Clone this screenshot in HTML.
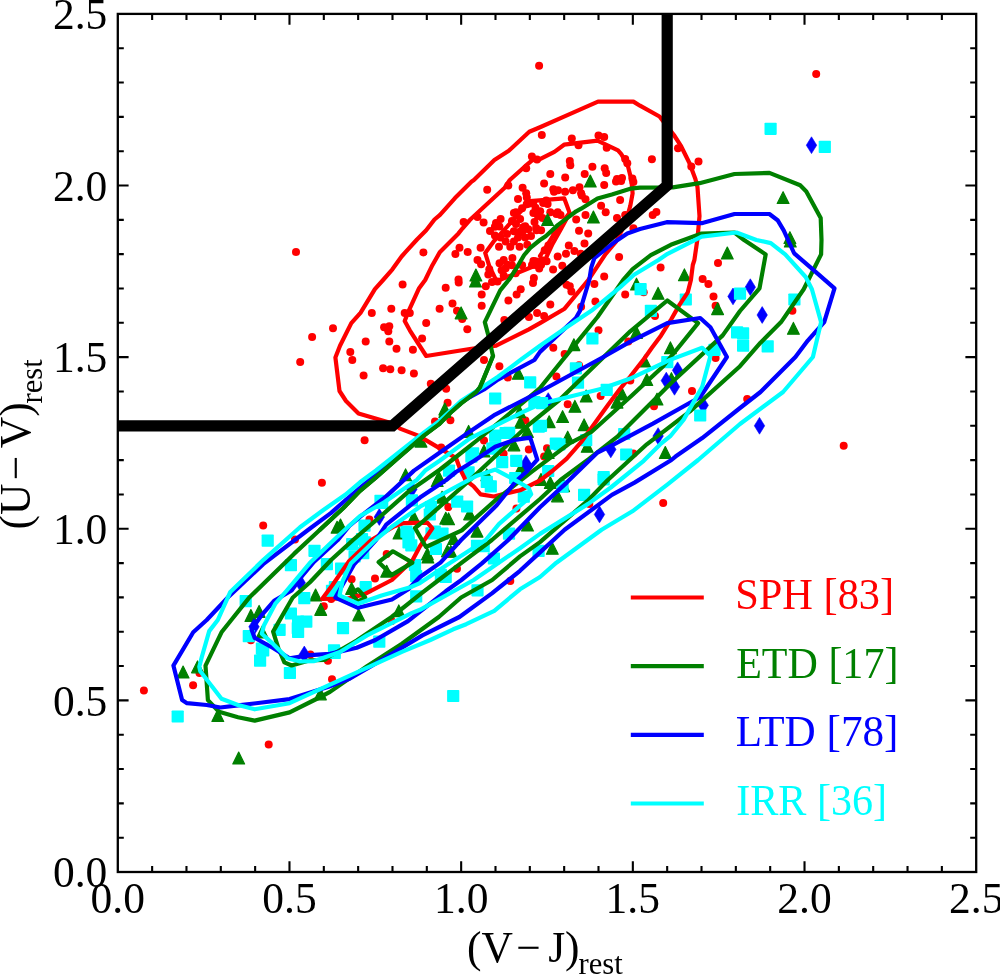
<!DOCTYPE html><html><head><meta charset="utf-8"><title>UVJ diagram</title><style>html,body{margin:0;padding:0;background:#fff;}svg{display:block;}text{font-family:"Liberation Serif","Times New Roman",serif;}</style></head><body>
<svg width="1000" height="974" viewBox="0 0 1000 974">
<rect x="0" y="0" width="1000" height="974" fill="#fff"/>
<defs><clipPath id="ax"><rect x="117.8" y="13.9" width="858.4" height="858.1"/></clipPath></defs>
<g clip-path="url(#ax)">
<circle cx="594.4" cy="284.1" r="4" fill="#ff0000"/>
<circle cx="569.8" cy="286.2" r="4" fill="#ff0000"/>
<circle cx="550.3" cy="304.6" r="4" fill="#ff0000"/>
<circle cx="544.1" cy="315.9" r="4" fill="#ff0000"/>
<circle cx="625.2" cy="294.4" r="4" fill="#ff0000"/>
<circle cx="643.7" cy="292.3" r="4" fill="#ff0000"/>
<circle cx="581.1" cy="306.7" r="4" fill="#ff0000"/>
<circle cx="595.4" cy="301.6" r="4" fill="#ff0000"/>
<circle cx="708.4" cy="284.1" r="4" fill="#ff0000"/>
<circle cx="713.5" cy="296.4" r="4" fill="#ff0000"/>
<circle cx="715.6" cy="305.7" r="4" fill="#ff0000"/>
<circle cx="598.5" cy="330.3" r="4" fill="#ff0000"/>
<circle cx="553.3" cy="347.8" r="4" fill="#ff0000"/>
<circle cx="564.6" cy="353.9" r="4" fill="#ff0000"/>
<circle cx="556.4" cy="376.5" r="4" fill="#ff0000"/>
<circle cx="579.0" cy="365.2" r="4" fill="#ff0000"/>
<circle cx="655.0" cy="315.9" r="4" fill="#ff0000"/>
<circle cx="628.3" cy="341.6" r="4" fill="#ff0000"/>
<circle cx="715.6" cy="358.0" r="4" fill="#ff0000"/>
<circle cx="692.0" cy="390.9" r="4" fill="#ff0000"/>
<circle cx="600.6" cy="396.0" r="4" fill="#ff0000"/>
<circle cx="567.7" cy="404.2" r="4" fill="#ff0000"/>
<circle cx="654.0" cy="406.3" r="4" fill="#ff0000"/>
<circle cx="630.3" cy="380.6" r="4" fill="#ff0000"/>
<circle cx="544.1" cy="456.6" r="4" fill="#ff0000"/>
<circle cx="633.4" cy="453.5" r="4" fill="#ff0000"/>
<circle cx="402.6" cy="284.5" r="4" fill="#ff0000"/>
<circle cx="445.7" cy="287.8" r="4" fill="#ff0000"/>
<circle cx="458.7" cy="282.5" r="4" fill="#ff0000"/>
<circle cx="481.7" cy="294.4" r="4" fill="#ff0000"/>
<circle cx="481.7" cy="305.7" r="4" fill="#ff0000"/>
<circle cx="452.5" cy="303.6" r="4" fill="#ff0000"/>
<circle cx="439.6" cy="308.7" r="4" fill="#ff0000"/>
<circle cx="391.3" cy="308.7" r="4" fill="#ff0000"/>
<circle cx="371.8" cy="312.9" r="4" fill="#ff0000"/>
<circle cx="404.7" cy="312.9" r="4" fill="#ff0000"/>
<circle cx="409.8" cy="312.9" r="4" fill="#ff0000"/>
<circle cx="426.2" cy="323.1" r="4" fill="#ff0000"/>
<circle cx="457.0" cy="310.8" r="4" fill="#ff0000"/>
<circle cx="462.2" cy="319.0" r="4" fill="#ff0000"/>
<circle cx="467.3" cy="329.3" r="4" fill="#ff0000"/>
<circle cx="384.1" cy="327.2" r="4" fill="#ff0000"/>
<circle cx="389.3" cy="326.2" r="4" fill="#ff0000"/>
<circle cx="388.3" cy="331.3" r="4" fill="#ff0000"/>
<circle cx="365.7" cy="341.6" r="4" fill="#ff0000"/>
<circle cx="389.3" cy="341.6" r="4" fill="#ff0000"/>
<circle cx="396.5" cy="348.8" r="4" fill="#ff0000"/>
<circle cx="422.1" cy="338.5" r="4" fill="#ff0000"/>
<circle cx="412.9" cy="349.8" r="4" fill="#ff0000"/>
<circle cx="350.3" cy="351.9" r="4" fill="#ff0000"/>
<circle cx="352.3" cy="360.1" r="4" fill="#ff0000"/>
<circle cx="383.1" cy="368.3" r="4" fill="#ff0000"/>
<circle cx="390.3" cy="369.3" r="4" fill="#ff0000"/>
<circle cx="401.6" cy="370.3" r="4" fill="#ff0000"/>
<circle cx="413.9" cy="373.4" r="4" fill="#ff0000"/>
<circle cx="363.6" cy="375.5" r="4" fill="#ff0000"/>
<circle cx="508.4" cy="300.5" r="4" fill="#ff0000"/>
<circle cx="516.6" cy="294.4" r="4" fill="#ff0000"/>
<circle cx="520.7" cy="289.2" r="4" fill="#ff0000"/>
<circle cx="533.0" cy="283.1" r="4" fill="#ff0000"/>
<circle cx="528.9" cy="317.0" r="4" fill="#ff0000"/>
<circle cx="537.1" cy="312.9" r="4" fill="#ff0000"/>
<circle cx="504.3" cy="320.0" r="4" fill="#ff0000"/>
<circle cx="364.6" cy="440.2" r="4" fill="#ff0000"/>
<circle cx="475.5" cy="282.0" r="4" fill="#ff0000"/>
<circle cx="485.8" cy="286.2" r="4" fill="#ff0000"/>
<circle cx="492.0" cy="282.0" r="4" fill="#ff0000"/>
<circle cx="430.8" cy="383.8" r="4" fill="#ff0000"/>
<circle cx="446.2" cy="388.7" r="4" fill="#ff0000"/>
<circle cx="447.6" cy="402.7" r="4" fill="#ff0000"/>
<circle cx="435.0" cy="421.6" r="4" fill="#ff0000"/>
<circle cx="450.4" cy="420.2" r="4" fill="#ff0000"/>
<circle cx="484.0" cy="440.5" r="4" fill="#ff0000"/>
<circle cx="499.4" cy="366.3" r="4" fill="#ff0000"/>
<circle cx="507.8" cy="377.5" r="4" fill="#ff0000"/>
<circle cx="484.0" cy="360.0" r="4" fill="#ff0000"/>
<circle cx="528.8" cy="449.6" r="4" fill="#ff0000"/>
<circle cx="503.6" cy="453.8" r="4" fill="#ff0000"/>
<circle cx="321.9" cy="482.8" r="4" fill="#ff0000"/>
<circle cx="423.4" cy="252.4" r="4" fill="#ff0000"/>
<circle cx="531.9" cy="156.5" r="4" fill="#ff0000"/>
<circle cx="537.0" cy="159.6" r="4" fill="#ff0000"/>
<circle cx="526.2" cy="168.3" r="4" fill="#ff0000"/>
<circle cx="487.2" cy="189.8" r="4" fill="#ff0000"/>
<circle cx="508.3" cy="185.6" r="4" fill="#ff0000"/>
<circle cx="522.6" cy="187.7" r="4" fill="#ff0000"/>
<circle cx="526.2" cy="193.3" r="4" fill="#ff0000"/>
<circle cx="526.8" cy="197.5" r="4" fill="#ff0000"/>
<circle cx="518.0" cy="199.0" r="4" fill="#ff0000"/>
<circle cx="477.5" cy="217.0" r="4" fill="#ff0000"/>
<circle cx="483.6" cy="222.6" r="4" fill="#ff0000"/>
<circle cx="463.6" cy="222.1" r="4" fill="#ff0000"/>
<circle cx="500.6" cy="219.0" r="4" fill="#ff0000"/>
<circle cx="496.0" cy="223.1" r="4" fill="#ff0000"/>
<circle cx="494.9" cy="226.7" r="4" fill="#ff0000"/>
<circle cx="513.9" cy="212.9" r="4" fill="#ff0000"/>
<circle cx="520.1" cy="219.0" r="4" fill="#ff0000"/>
<circle cx="522.1" cy="208.2" r="4" fill="#ff0000"/>
<circle cx="529.3" cy="203.6" r="4" fill="#ff0000"/>
<circle cx="535.5" cy="207.7" r="4" fill="#ff0000"/>
<circle cx="533.4" cy="212.9" r="4" fill="#ff0000"/>
<circle cx="511.9" cy="221.1" r="4" fill="#ff0000"/>
<circle cx="516.0" cy="224.1" r="4" fill="#ff0000"/>
<circle cx="534.5" cy="222.1" r="4" fill="#ff0000"/>
<circle cx="525.2" cy="226.2" r="4" fill="#ff0000"/>
<circle cx="513.9" cy="231.3" r="4" fill="#ff0000"/>
<circle cx="522.1" cy="232.4" r="4" fill="#ff0000"/>
<circle cx="528.3" cy="229.3" r="4" fill="#ff0000"/>
<circle cx="536.5" cy="230.3" r="4" fill="#ff0000"/>
<circle cx="494.9" cy="235.4" r="4" fill="#ff0000"/>
<circle cx="500.6" cy="237.5" r="4" fill="#ff0000"/>
<circle cx="505.7" cy="241.6" r="4" fill="#ff0000"/>
<circle cx="513.9" cy="241.6" r="4" fill="#ff0000"/>
<circle cx="518.0" cy="237.5" r="4" fill="#ff0000"/>
<circle cx="525.2" cy="237.5" r="4" fill="#ff0000"/>
<circle cx="527.3" cy="244.7" r="4" fill="#ff0000"/>
<circle cx="519.6" cy="246.7" r="4" fill="#ff0000"/>
<circle cx="510.3" cy="246.7" r="4" fill="#ff0000"/>
<circle cx="499.0" cy="246.7" r="4" fill="#ff0000"/>
<circle cx="480.6" cy="247.8" r="4" fill="#ff0000"/>
<circle cx="467.7" cy="251.9" r="4" fill="#ff0000"/>
<circle cx="459.5" cy="247.8" r="4" fill="#ff0000"/>
<circle cx="455.4" cy="253.9" r="4" fill="#ff0000"/>
<circle cx="477.5" cy="260.1" r="4" fill="#ff0000"/>
<circle cx="481.1" cy="264.2" r="4" fill="#ff0000"/>
<circle cx="499.5" cy="263.2" r="4" fill="#ff0000"/>
<circle cx="503.7" cy="260.1" r="4" fill="#ff0000"/>
<circle cx="512.4" cy="258.0" r="4" fill="#ff0000"/>
<circle cx="511.9" cy="265.2" r="4" fill="#ff0000"/>
<circle cx="505.7" cy="268.3" r="4" fill="#ff0000"/>
<circle cx="501.6" cy="270.3" r="4" fill="#ff0000"/>
<circle cx="522.1" cy="265.2" r="4" fill="#ff0000"/>
<circle cx="533.4" cy="261.1" r="4" fill="#ff0000"/>
<circle cx="536.5" cy="265.2" r="4" fill="#ff0000"/>
<circle cx="533.9" cy="278.0" r="4" fill="#ff0000"/>
<circle cx="458.5" cy="279.6" r="4" fill="#ff0000"/>
<circle cx="489.3" cy="269.3" r="4" fill="#ff0000"/>
<circle cx="488.3" cy="274.5" r="4" fill="#ff0000"/>
<circle cx="503.7" cy="275.5" r="4" fill="#ff0000"/>
<circle cx="538.0" cy="216.0" r="4" fill="#ff0000"/>
<circle cx="531.0" cy="236.0" r="4" fill="#ff0000"/>
<circle cx="490.0" cy="231.0" r="4" fill="#ff0000"/>
<circle cx="507.0" cy="234.0" r="4" fill="#ff0000"/>
<circle cx="541.8" cy="134.9" r="4" fill="#ff0000"/>
<circle cx="571.8" cy="138.5" r="4" fill="#ff0000"/>
<circle cx="578.5" cy="145.2" r="4" fill="#ff0000"/>
<circle cx="598.5" cy="135.4" r="4" fill="#ff0000"/>
<circle cx="604.2" cy="137.0" r="4" fill="#ff0000"/>
<circle cx="606.7" cy="147.8" r="4" fill="#ff0000"/>
<circle cx="569.8" cy="161.1" r="4" fill="#ff0000"/>
<circle cx="570.3" cy="165.2" r="4" fill="#ff0000"/>
<circle cx="592.4" cy="166.8" r="4" fill="#ff0000"/>
<circle cx="604.7" cy="168.3" r="4" fill="#ff0000"/>
<circle cx="606.2" cy="172.9" r="4" fill="#ff0000"/>
<circle cx="550.3" cy="173.9" r="4" fill="#ff0000"/>
<circle cx="565.2" cy="177.5" r="4" fill="#ff0000"/>
<circle cx="584.7" cy="173.9" r="4" fill="#ff0000"/>
<circle cx="625.2" cy="159.1" r="4" fill="#ff0000"/>
<circle cx="627.3" cy="163.2" r="4" fill="#ff0000"/>
<circle cx="632.4" cy="178.6" r="4" fill="#ff0000"/>
<circle cx="617.0" cy="179.0" r="4" fill="#ff0000"/>
<circle cx="622.0" cy="178.0" r="4" fill="#ff0000"/>
<circle cx="565.1" cy="191.8" r="4" fill="#ff0000"/>
<circle cx="554.0" cy="191.8" r="4" fill="#ff0000"/>
<circle cx="581.8" cy="195.5" r="4" fill="#ff0000"/>
<circle cx="585.5" cy="199.2" r="4" fill="#ff0000"/>
<circle cx="547.6" cy="203.9" r="4" fill="#ff0000"/>
<circle cx="540.2" cy="211.3" r="4" fill="#ff0000"/>
<circle cx="550.3" cy="212.2" r="4" fill="#ff0000"/>
<circle cx="557.7" cy="212.2" r="4" fill="#ff0000"/>
<circle cx="560.5" cy="215.0" r="4" fill="#ff0000"/>
<circle cx="576.2" cy="219.6" r="4" fill="#ff0000"/>
<circle cx="579.0" cy="230.7" r="4" fill="#ff0000"/>
<circle cx="588.2" cy="233.4" r="4" fill="#ff0000"/>
<circle cx="585.5" cy="215.0" r="4" fill="#ff0000"/>
<circle cx="568.8" cy="245.5" r="4" fill="#ff0000"/>
<circle cx="574.4" cy="251.0" r="4" fill="#ff0000"/>
<circle cx="584.5" cy="243.6" r="4" fill="#ff0000"/>
<circle cx="566.0" cy="253.8" r="4" fill="#ff0000"/>
<circle cx="557.7" cy="256.5" r="4" fill="#ff0000"/>
<circle cx="546.6" cy="261.2" r="4" fill="#ff0000"/>
<circle cx="535.5" cy="261.2" r="4" fill="#ff0000"/>
<circle cx="539.2" cy="268.6" r="4" fill="#ff0000"/>
<circle cx="562.3" cy="265.8" r="4" fill="#ff0000"/>
<circle cx="553.1" cy="269.5" r="4" fill="#ff0000"/>
<circle cx="580.8" cy="253.8" r="4" fill="#ff0000"/>
<circle cx="544.1" cy="183.6" r="4" fill="#ff0000"/>
<circle cx="553.3" cy="189.2" r="4" fill="#ff0000"/>
<circle cx="558.0" cy="190.3" r="4" fill="#ff0000"/>
<circle cx="572.9" cy="190.3" r="4" fill="#ff0000"/>
<circle cx="579.5" cy="187.2" r="4" fill="#ff0000"/>
<circle cx="581.1" cy="193.3" r="4" fill="#ff0000"/>
<circle cx="604.2" cy="185.1" r="4" fill="#ff0000"/>
<circle cx="616.0" cy="181.5" r="4" fill="#ff0000"/>
<circle cx="621.1" cy="181.0" r="4" fill="#ff0000"/>
<circle cx="633.4" cy="182.1" r="4" fill="#ff0000"/>
<circle cx="620.1" cy="200.0" r="4" fill="#ff0000"/>
<circle cx="601.1" cy="205.7" r="4" fill="#ff0000"/>
<circle cx="605.7" cy="212.3" r="4" fill="#ff0000"/>
<circle cx="604.2" cy="276.5" r="4" fill="#ff0000"/>
<circle cx="619.1" cy="257.0" r="4" fill="#ff0000"/>
<circle cx="617.0" cy="218.0" r="4" fill="#ff0000"/>
<circle cx="625.2" cy="214.9" r="4" fill="#ff0000"/>
<circle cx="633.4" cy="228.3" r="4" fill="#ff0000"/>
<circle cx="556.4" cy="213.9" r="4" fill="#ff0000"/>
<circle cx="546.2" cy="200.5" r="4" fill="#ff0000"/>
<circle cx="816.2" cy="74.0" r="4" fill="#ff0000"/>
<circle cx="651.9" cy="159.2" r="4" fill="#ff0000"/>
<circle cx="678.0" cy="148.3" r="4" fill="#ff0000"/>
<circle cx="698.5" cy="161.6" r="4" fill="#ff0000"/>
<circle cx="691.3" cy="166.4" r="4" fill="#ff0000"/>
<circle cx="656.4" cy="212.0" r="4" fill="#ff0000"/>
<circle cx="652.7" cy="215.0" r="4" fill="#ff0000"/>
<circle cx="792.4" cy="310.8" r="4" fill="#ff0000"/>
<circle cx="747.2" cy="399.1" r="4" fill="#ff0000"/>
<circle cx="843.7" cy="445.7" r="4" fill="#ff0000"/>
<circle cx="663.2" cy="503.1" r="4" fill="#ff0000"/>
<circle cx="589.3" cy="504.1" r="4" fill="#ff0000"/>
<circle cx="539.1" cy="65.8" r="4" fill="#ff0000"/>
<circle cx="660.6" cy="267.5" r="4" fill="#ff0000"/>
<circle cx="718.0" cy="262.9" r="4" fill="#ff0000"/>
<circle cx="702.6" cy="279.0" r="4" fill="#ff0000"/>
<circle cx="333.0" cy="328.3" r="4" fill="#ff0000"/>
<circle cx="312.1" cy="336.9" r="4" fill="#ff0000"/>
<circle cx="300.2" cy="362.1" r="4" fill="#ff0000"/>
<circle cx="263.2" cy="525.6" r="4" fill="#ff0000"/>
<circle cx="295.0" cy="539.5" r="4" fill="#ff0000"/>
<circle cx="250.9" cy="640.2" r="4" fill="#ff0000"/>
<circle cx="310.4" cy="654.5" r="4" fill="#ff0000"/>
<circle cx="327.9" cy="660.7" r="4" fill="#ff0000"/>
<circle cx="323.8" cy="606.3" r="4" fill="#ff0000"/>
<circle cx="199.5" cy="673.0" r="4" fill="#ff0000"/>
<circle cx="332.0" cy="679.2" r="4" fill="#ff0000"/>
<circle cx="193.1" cy="685.3" r="4" fill="#ff0000"/>
<circle cx="268.7" cy="744.6" r="4" fill="#ff0000"/>
<circle cx="143.9" cy="690.5" r="4" fill="#ff0000"/>
<circle cx="369.4" cy="519.4" r="4" fill="#ff0000"/>
<circle cx="386.7" cy="553.9" r="4" fill="#ff0000"/>
<circle cx="375.0" cy="578.6" r="4" fill="#ff0000"/>
<circle cx="351.6" cy="579.2" r="4" fill="#ff0000"/>
<circle cx="448.3" cy="507.1" r="4" fill="#ff0000"/>
<circle cx="331.2" cy="598.9" r="4" fill="#ff0000"/>
<circle cx="516.4" cy="508.4" r="4" fill="#ff0000"/>
<circle cx="441.2" cy="447.4" r="4" fill="#ff0000"/>
<circle cx="457.0" cy="568.7" r="4" fill="#ff0000"/>
<circle cx="510.3" cy="581.1" r="4" fill="#ff0000"/>
<circle cx="391.6" cy="621.1" r="4" fill="#ff0000"/>
<circle cx="526.7" cy="204.3" r="4" fill="#ff0000"/>
<circle cx="533.2" cy="202.9" r="4" fill="#ff0000"/>
<circle cx="543.2" cy="202.9" r="4" fill="#ff0000"/>
<circle cx="515.9" cy="212.2" r="4" fill="#ff0000"/>
<circle cx="542.5" cy="218.0" r="4" fill="#ff0000"/>
<circle cx="499.4" cy="226.6" r="4" fill="#ff0000"/>
<circle cx="523.1" cy="227.3" r="4" fill="#ff0000"/>
<circle cx="536.1" cy="228.0" r="4" fill="#ff0000"/>
<circle cx="541.1" cy="230.2" r="4" fill="#ff0000"/>
<circle cx="520.2" cy="231.6" r="4" fill="#ff0000"/>
<circle cx="507.3" cy="264.7" r="4" fill="#ff0000"/>
<circle cx="541.1" cy="264.7" r="4" fill="#ff0000"/>
<circle cx="544.7" cy="250.3" r="4" fill="#ff0000"/>
<circle cx="497.5" cy="281.6" r="4" fill="#ff0000"/>
<circle cx="515.6" cy="273.3" r="4" fill="#ff0000"/>
<circle cx="532.0" cy="265.1" r="4" fill="#ff0000"/>
<circle cx="541.8" cy="260.2" r="4" fill="#ff0000"/>
<circle cx="555.0" cy="232.3" r="4" fill="#ff0000"/>
<circle cx="548.4" cy="245.4" r="4" fill="#ff0000"/>
<circle cx="566.5" cy="284.8" r="4" fill="#ff0000"/>
<circle cx="571.4" cy="291.4" r="4" fill="#ff0000"/>
<circle cx="296.0" cy="252.1" r="4" fill="#ff0000"/>
<circle cx="525.4" cy="420.5" r="4" fill="#ff0000"/>
<circle cx="547.0" cy="448.3" r="4" fill="#ff0000"/>
<polygon points="636.5,278.2 630.6,290.0 642.4,290.0" fill="#008000" stroke="#008000" stroke-width="1.2" stroke-linejoin="round"/>
<polygon points="658.1,287.4 652.2,299.2 664.0,299.2" fill="#008000" stroke="#008000" stroke-width="1.2" stroke-linejoin="round"/>
<polygon points="717.6,302.8 711.7,314.6 723.5,314.6" fill="#008000" stroke="#008000" stroke-width="1.2" stroke-linejoin="round"/>
<polygon points="573.9,338.8 568.0,350.6 579.8,350.6" fill="#008000" stroke="#008000" stroke-width="1.2" stroke-linejoin="round"/>
<polygon points="636.5,326.5 630.6,338.3 642.4,338.3" fill="#008000" stroke="#008000" stroke-width="1.2" stroke-linejoin="round"/>
<polygon points="670.4,341.9 664.5,353.7 676.3,353.7" fill="#008000" stroke="#008000" stroke-width="1.2" stroke-linejoin="round"/>
<polygon points="644.7,355.2 638.8,367.0 650.6,367.0" fill="#008000" stroke="#008000" stroke-width="1.2" stroke-linejoin="round"/>
<polygon points="646.8,373.7 640.9,385.5 652.7,385.5" fill="#008000" stroke="#008000" stroke-width="1.2" stroke-linejoin="round"/>
<polygon points="671.4,372.7 665.5,384.5 677.3,384.5" fill="#008000" stroke="#008000" stroke-width="1.2" stroke-linejoin="round"/>
<polygon points="622.1,388.1 616.2,399.9 628.0,399.9" fill="#008000" stroke="#008000" stroke-width="1.2" stroke-linejoin="round"/>
<polygon points="617.0,396.3 611.1,408.1 622.9,408.1" fill="#008000" stroke="#008000" stroke-width="1.2" stroke-linejoin="round"/>
<polygon points="586.2,390.1 580.3,401.9 592.1,401.9" fill="#008000" stroke="#008000" stroke-width="1.2" stroke-linejoin="round"/>
<polygon points="574.9,400.4 569.0,412.2 580.8,412.2" fill="#008000" stroke="#008000" stroke-width="1.2" stroke-linejoin="round"/>
<polygon points="657.0,393.2 651.1,405.0 662.9,405.0" fill="#008000" stroke="#008000" stroke-width="1.2" stroke-linejoin="round"/>
<polygon points="562.6,410.7 556.7,422.5 568.5,422.5" fill="#008000" stroke="#008000" stroke-width="1.2" stroke-linejoin="round"/>
<polygon points="549.2,415.8 543.3,427.6 555.1,427.6" fill="#008000" stroke="#008000" stroke-width="1.2" stroke-linejoin="round"/>
<polygon points="584.1,418.9 578.2,430.7 590.0,430.7" fill="#008000" stroke="#008000" stroke-width="1.2" stroke-linejoin="round"/>
<polygon points="567.7,431.2 561.8,443.0 573.6,443.0" fill="#008000" stroke="#008000" stroke-width="1.2" stroke-linejoin="round"/>
<polygon points="587.2,440.4 581.3,452.2 593.1,452.2" fill="#008000" stroke="#008000" stroke-width="1.2" stroke-linejoin="round"/>
<polygon points="548.2,446.6 542.3,458.4 554.1,458.4" fill="#008000" stroke="#008000" stroke-width="1.2" stroke-linejoin="round"/>
<polygon points="665.3,446.6 659.4,458.4 671.2,458.4" fill="#008000" stroke="#008000" stroke-width="1.2" stroke-linejoin="round"/>
<polygon points="461.1,307.0 455.2,318.8 467.0,318.8" fill="#008000" stroke="#008000" stroke-width="1.2" stroke-linejoin="round"/>
<polygon points="518.3,367.4 512.4,379.2 524.2,379.2" fill="#008000" stroke="#008000" stroke-width="1.2" stroke-linejoin="round"/>
<polygon points="444.8,403.1 438.9,414.9 450.7,414.9" fill="#008000" stroke="#008000" stroke-width="1.2" stroke-linejoin="round"/>
<polygon points="468.6,425.5 462.7,437.3 474.5,437.3" fill="#008000" stroke="#008000" stroke-width="1.2" stroke-linejoin="round"/>
<polygon points="421.0,435.3 415.1,447.1 426.9,447.1" fill="#008000" stroke="#008000" stroke-width="1.2" stroke-linejoin="round"/>
<polygon points="519.7,405.9 513.8,417.7 525.6,417.7" fill="#008000" stroke="#008000" stroke-width="1.2" stroke-linejoin="round"/>
<polygon points="520.4,416.4 514.5,428.2 526.3,428.2" fill="#008000" stroke="#008000" stroke-width="1.2" stroke-linejoin="round"/>
<polygon points="527.4,425.5 521.5,437.3 533.3,437.3" fill="#008000" stroke="#008000" stroke-width="1.2" stroke-linejoin="round"/>
<polygon points="484.0,445.1 478.1,456.9 489.9,456.9" fill="#008000" stroke="#008000" stroke-width="1.2" stroke-linejoin="round"/>
<polygon points="520.4,463.3 514.5,475.1 526.3,475.1" fill="#008000" stroke="#008000" stroke-width="1.2" stroke-linejoin="round"/>
<polygon points="405.6,468.9 399.7,480.7 411.5,480.7" fill="#008000" stroke="#008000" stroke-width="1.2" stroke-linejoin="round"/>
<polygon points="486.8,468.9 480.9,480.7 492.7,480.7" fill="#008000" stroke="#008000" stroke-width="1.2" stroke-linejoin="round"/>
<polygon points="475.5,275.1 469.6,286.9 481.4,286.9" fill="#008000" stroke="#008000" stroke-width="1.2" stroke-linejoin="round"/>
<polygon points="475.9,269.1 470.0,280.9 481.8,280.9" fill="#008000" stroke="#008000" stroke-width="1.2" stroke-linejoin="round"/>
<polygon points="547.6,213.7 541.7,225.5 553.5,225.5" fill="#008000" stroke="#008000" stroke-width="1.2" stroke-linejoin="round"/>
<polygon points="590.3,175.1 584.4,186.9 596.2,186.9" fill="#008000" stroke="#008000" stroke-width="1.2" stroke-linejoin="round"/>
<polygon points="593.4,211.1 587.5,222.9 599.3,222.9" fill="#008000" stroke="#008000" stroke-width="1.2" stroke-linejoin="round"/>
<polygon points="783.1,191.7 777.2,203.5 789.0,203.5" fill="#008000" stroke="#008000" stroke-width="1.2" stroke-linejoin="round"/>
<polygon points="789.9,231.7 784.0,243.5 795.8,243.5" fill="#008000" stroke="#008000" stroke-width="1.2" stroke-linejoin="round"/>
<polygon points="727.3,247.1 721.4,258.9 733.2,258.9" fill="#008000" stroke="#008000" stroke-width="1.2" stroke-linejoin="round"/>
<polygon points="793.4,322.4 787.5,334.2 799.3,334.2" fill="#008000" stroke="#008000" stroke-width="1.2" stroke-linejoin="round"/>
<polygon points="790.3,235.1 784.4,246.9 796.2,246.9" fill="#008000" stroke="#008000" stroke-width="1.2" stroke-linejoin="round"/>
<polygon points="552.3,542.4 546.4,554.2 558.2,554.2" fill="#008000" stroke="#008000" stroke-width="1.2" stroke-linejoin="round"/>
<polygon points="557.5,490.0 551.6,501.8 563.4,501.8" fill="#008000" stroke="#008000" stroke-width="1.2" stroke-linejoin="round"/>
<polygon points="550.3,476.7 544.4,488.5 556.2,488.5" fill="#008000" stroke="#008000" stroke-width="1.2" stroke-linejoin="round"/>
<polygon points="563.6,479.8 557.7,491.6 569.5,491.6" fill="#008000" stroke="#008000" stroke-width="1.2" stroke-linejoin="round"/>
<polygon points="684.4,268.9 678.5,280.7 690.3,280.7" fill="#008000" stroke="#008000" stroke-width="1.2" stroke-linejoin="round"/>
<polygon points="250.9,609.6 245.0,621.4 256.8,621.4" fill="#008000" stroke="#008000" stroke-width="1.2" stroke-linejoin="round"/>
<polygon points="259.1,605.5 253.2,617.3 265.0,617.3" fill="#008000" stroke="#008000" stroke-width="1.2" stroke-linejoin="round"/>
<polygon points="315.6,589.1 309.7,600.9 321.5,600.9" fill="#008000" stroke="#008000" stroke-width="1.2" stroke-linejoin="round"/>
<polygon points="320.7,603.5 314.8,615.3 326.6,615.3" fill="#008000" stroke="#008000" stroke-width="1.2" stroke-linejoin="round"/>
<polygon points="183.1,666.1 177.2,677.9 189.0,677.9" fill="#008000" stroke="#008000" stroke-width="1.2" stroke-linejoin="round"/>
<polygon points="197.5,661.0 191.6,672.8 203.4,672.8" fill="#008000" stroke="#008000" stroke-width="1.2" stroke-linejoin="round"/>
<polygon points="262.2,626.1 256.3,637.9 268.1,637.9" fill="#008000" stroke="#008000" stroke-width="1.2" stroke-linejoin="round"/>
<polygon points="337.1,521.3 331.2,533.1 343.0,533.1" fill="#008000" stroke="#008000" stroke-width="1.2" stroke-linejoin="round"/>
<polygon points="217.8,709.6 211.9,721.4 223.7,721.4" fill="#008000" stroke="#008000" stroke-width="1.2" stroke-linejoin="round"/>
<polygon points="238.7,752.1 232.8,763.9 244.6,763.9" fill="#008000" stroke="#008000" stroke-width="1.2" stroke-linejoin="round"/>
<polygon points="320.4,688.0 314.5,699.8 326.3,699.8" fill="#008000" stroke="#008000" stroke-width="1.2" stroke-linejoin="round"/>
<polygon points="340.5,519.1 334.6,530.9 346.4,530.9" fill="#008000" stroke="#008000" stroke-width="1.2" stroke-linejoin="round"/>
<polygon points="399.0,527.1 393.1,538.9 404.9,538.9" fill="#008000" stroke="#008000" stroke-width="1.2" stroke-linejoin="round"/>
<polygon points="413.8,511.1 407.9,522.9 419.7,522.9" fill="#008000" stroke="#008000" stroke-width="1.2" stroke-linejoin="round"/>
<polygon points="427.9,551.1 422.0,562.9 433.8,562.9" fill="#008000" stroke="#008000" stroke-width="1.2" stroke-linejoin="round"/>
<polygon points="386.7,565.3 380.8,577.1 392.6,577.1" fill="#008000" stroke="#008000" stroke-width="1.2" stroke-linejoin="round"/>
<polygon points="351.6,582.5 345.7,594.3 357.5,594.3" fill="#008000" stroke="#008000" stroke-width="1.2" stroke-linejoin="round"/>
<polygon points="445.8,512.3 439.9,524.1 451.7,524.1" fill="#008000" stroke="#008000" stroke-width="1.2" stroke-linejoin="round"/>
<polygon points="442.1,491.3 436.2,503.1 448.0,503.1" fill="#008000" stroke="#008000" stroke-width="1.2" stroke-linejoin="round"/>
<polygon points="437.2,474.7 431.3,486.5 443.1,486.5" fill="#008000" stroke="#008000" stroke-width="1.2" stroke-linejoin="round"/>
<polygon points="522.5,463.7 516.6,475.5 528.4,475.5" fill="#008000" stroke="#008000" stroke-width="1.2" stroke-linejoin="round"/>
<polygon points="541.0,473.5 535.1,485.3 546.9,485.3" fill="#008000" stroke="#008000" stroke-width="1.2" stroke-linejoin="round"/>
<polygon points="469.6,508.0 463.7,519.8 475.5,519.8" fill="#008000" stroke="#008000" stroke-width="1.2" stroke-linejoin="round"/>
<polygon points="448.6,512.9 442.7,524.7 454.5,524.7" fill="#008000" stroke="#008000" stroke-width="1.2" stroke-linejoin="round"/>
<polygon points="477.0,525.3 471.1,537.1 482.9,537.1" fill="#008000" stroke="#008000" stroke-width="1.2" stroke-linejoin="round"/>
<polygon points="453.6,532.7 447.7,544.5 459.5,544.5" fill="#008000" stroke="#008000" stroke-width="1.2" stroke-linejoin="round"/>
<polygon points="527.5,519.1 521.6,530.9 533.4,530.9" fill="#008000" stroke="#008000" stroke-width="1.2" stroke-linejoin="round"/>
<polygon points="447.4,545.0 441.5,556.8 453.3,556.8" fill="#008000" stroke="#008000" stroke-width="1.2" stroke-linejoin="round"/>
<polygon points="513.9,439.0 508.0,450.8 519.8,450.8" fill="#008000" stroke="#008000" stroke-width="1.2" stroke-linejoin="round"/>
<polygon points="450.8,545.4 444.9,557.2 456.7,557.2" fill="#008000" stroke="#008000" stroke-width="1.2" stroke-linejoin="round"/>
<polygon points="358.7,609.0 352.8,620.8 364.6,620.8" fill="#008000" stroke="#008000" stroke-width="1.2" stroke-linejoin="round"/>
<polygon points="398.8,604.9 392.9,616.7 404.7,616.7" fill="#008000" stroke="#008000" stroke-width="1.2" stroke-linejoin="round"/>
<polygon points="439.0,471.5 433.1,483.3 444.9,483.3" fill="#008000" stroke="#008000" stroke-width="1.2" stroke-linejoin="round"/>
<polygon points="444.8,405.7 438.9,417.5 450.7,417.5" fill="#008000" stroke="#008000" stroke-width="1.2" stroke-linejoin="round"/>
<polygon points="427.4,548.0 421.5,559.8 433.3,559.8" fill="#008000" stroke="#008000" stroke-width="1.2" stroke-linejoin="round"/>
<polygon points="733.0,288.0 738.2,296.4 733.0,304.8 727.8,296.4" fill="#0000ff" stroke="#0000ff" stroke-width="0.6" stroke-linejoin="round"/>
<polygon points="677.6,361.9 682.8,370.3 677.6,378.7 672.4,370.3" fill="#0000ff" stroke="#0000ff" stroke-width="0.6" stroke-linejoin="round"/>
<polygon points="666.3,372.2 671.5,380.6 666.3,389.0 661.1,380.6" fill="#0000ff" stroke="#0000ff" stroke-width="0.6" stroke-linejoin="round"/>
<polygon points="674.5,378.4 679.7,386.8 674.5,395.2 669.3,386.8" fill="#0000ff" stroke="#0000ff" stroke-width="0.6" stroke-linejoin="round"/>
<polygon points="548.2,392.7 553.4,401.1 548.2,409.5 543.0,401.1" fill="#0000ff" stroke="#0000ff" stroke-width="0.6" stroke-linejoin="round"/>
<polygon points="703.2,396.9 708.4,405.3 703.2,413.7 698.0,405.3" fill="#0000ff" stroke="#0000ff" stroke-width="0.6" stroke-linejoin="round"/>
<polygon points="658.1,427.7 663.3,436.1 658.1,444.5 652.9,436.1" fill="#0000ff" stroke="#0000ff" stroke-width="0.6" stroke-linejoin="round"/>
<polygon points="610.8,441.0 616.0,449.4 610.8,457.8 605.6,449.4" fill="#0000ff" stroke="#0000ff" stroke-width="0.6" stroke-linejoin="round"/>
<polygon points="526.0,455.2 531.2,463.6 526.0,472.0 520.8,463.6" fill="#0000ff" stroke="#0000ff" stroke-width="0.6" stroke-linejoin="round"/>
<polygon points="811.5,136.8 816.7,145.2 811.5,153.6 806.3,145.2" fill="#0000ff" stroke="#0000ff" stroke-width="0.6" stroke-linejoin="round"/>
<polygon points="750.3,278.8 755.5,287.2 750.3,295.6 745.1,287.2" fill="#0000ff" stroke="#0000ff" stroke-width="0.6" stroke-linejoin="round"/>
<polygon points="762.2,306.6 767.4,315.0 762.2,323.4 757.0,315.0" fill="#0000ff" stroke="#0000ff" stroke-width="0.6" stroke-linejoin="round"/>
<polygon points="759.5,417.4 764.7,425.8 759.5,434.2 754.3,425.8" fill="#0000ff" stroke="#0000ff" stroke-width="0.6" stroke-linejoin="round"/>
<polygon points="599.5,506.0 604.7,514.4 599.5,522.8 594.3,514.4" fill="#0000ff" stroke="#0000ff" stroke-width="0.6" stroke-linejoin="round"/>
<polygon points="300.2,574.3 305.4,582.7 300.2,591.1 295.0,582.7" fill="#0000ff" stroke="#0000ff" stroke-width="0.6" stroke-linejoin="round"/>
<polygon points="254.0,618.4 259.2,626.8 254.0,635.2 248.8,626.8" fill="#0000ff" stroke="#0000ff" stroke-width="0.6" stroke-linejoin="round"/>
<polygon points="304.3,646.1 309.5,654.5 304.3,662.9 299.1,654.5" fill="#0000ff" stroke="#0000ff" stroke-width="0.6" stroke-linejoin="round"/>
<polygon points="379.3,508.6 384.5,517.0 379.3,525.4 374.1,517.0" fill="#0000ff" stroke="#0000ff" stroke-width="0.6" stroke-linejoin="round"/>
<polygon points="411.9,480.8 417.1,489.2 411.9,497.6 406.7,489.2" fill="#0000ff" stroke="#0000ff" stroke-width="0.6" stroke-linejoin="round"/>
<rect x="634.5" y="283.1" width="12.2" height="12.2" fill="#00ffff" rx="0.8"/>
<rect x="679.7" y="293.4" width="12.2" height="12.2" fill="#00ffff" rx="0.8"/>
<rect x="644.8" y="304.7" width="12.2" height="12.2" fill="#00ffff" rx="0.8"/>
<rect x="586.3" y="332.4" width="12.2" height="12.2" fill="#00ffff" rx="0.8"/>
<rect x="708.4" y="343.7" width="12.2" height="12.2" fill="#00ffff" rx="0.8"/>
<rect x="731.0" y="326.3" width="12.2" height="12.2" fill="#00ffff" rx="0.8"/>
<rect x="569.8" y="362.2" width="12.2" height="12.2" fill="#00ffff" rx="0.8"/>
<rect x="571.9" y="376.6" width="12.2" height="12.2" fill="#00ffff" rx="0.8"/>
<rect x="661.2" y="356.0" width="12.2" height="12.2" fill="#00ffff" rx="0.8"/>
<rect x="600.6" y="383.8" width="12.2" height="12.2" fill="#00ffff" rx="0.8"/>
<rect x="536.0" y="397.1" width="12.2" height="12.2" fill="#00ffff" rx="0.8"/>
<rect x="534.9" y="419.7" width="12.2" height="12.2" fill="#00ffff" rx="0.8"/>
<rect x="694.1" y="409.4" width="12.2" height="12.2" fill="#00ffff" rx="0.8"/>
<rect x="618.1" y="427.9" width="12.2" height="12.2" fill="#00ffff" rx="0.8"/>
<rect x="553.4" y="438.2" width="12.2" height="12.2" fill="#00ffff" rx="0.8"/>
<rect x="580.1" y="434.1" width="12.2" height="12.2" fill="#00ffff" rx="0.8"/>
<rect x="620.1" y="448.4" width="12.2" height="12.2" fill="#00ffff" rx="0.8"/>
<rect x="542.1" y="464.9" width="12.2" height="12.2" fill="#00ffff" rx="0.8"/>
<rect x="597.6" y="471.0" width="12.2" height="12.2" fill="#00ffff" rx="0.8"/>
<rect x="524.1" y="376.3" width="12.2" height="12.2" fill="#00ffff" rx="0.8"/>
<rect x="489.1" y="392.4" width="12.2" height="12.2" fill="#00ffff" rx="0.8"/>
<rect x="528.3" y="395.9" width="12.2" height="12.2" fill="#00ffff" rx="0.8"/>
<rect x="503.1" y="426.7" width="12.2" height="12.2" fill="#00ffff" rx="0.8"/>
<rect x="489.1" y="429.5" width="12.2" height="12.2" fill="#00ffff" rx="0.8"/>
<rect x="465.3" y="450.5" width="12.2" height="12.2" fill="#00ffff" rx="0.8"/>
<rect x="496.1" y="456.1" width="12.2" height="12.2" fill="#00ffff" rx="0.8"/>
<rect x="510.1" y="454.7" width="12.2" height="12.2" fill="#00ffff" rx="0.8"/>
<rect x="442.9" y="464.5" width="12.2" height="12.2" fill="#00ffff" rx="0.8"/>
<rect x="764.5" y="122.7" width="12.2" height="12.2" fill="#00ffff" rx="0.8"/>
<rect x="818.7" y="140.8" width="12.2" height="12.2" fill="#00ffff" rx="0.8"/>
<rect x="788.3" y="293.4" width="12.2" height="12.2" fill="#00ffff" rx="0.8"/>
<rect x="737.0" y="327.3" width="12.2" height="12.2" fill="#00ffff" rx="0.8"/>
<rect x="737.0" y="339.6" width="12.2" height="12.2" fill="#00ffff" rx="0.8"/>
<rect x="761.6" y="340.3" width="12.2" height="12.2" fill="#00ffff" rx="0.8"/>
<rect x="578.0" y="488.8" width="12.2" height="12.2" fill="#00ffff" rx="0.8"/>
<rect x="597.6" y="473.4" width="12.2" height="12.2" fill="#00ffff" rx="0.8"/>
<rect x="556.5" y="480.6" width="12.2" height="12.2" fill="#00ffff" rx="0.8"/>
<rect x="261.6" y="534.5" width="12.2" height="12.2" fill="#00ffff" rx="0.8"/>
<rect x="239.6" y="595.0" width="12.2" height="12.2" fill="#00ffff" rx="0.8"/>
<rect x="284.8" y="559.1" width="12.2" height="12.2" fill="#00ffff" rx="0.8"/>
<rect x="308.4" y="544.7" width="12.2" height="12.2" fill="#00ffff" rx="0.8"/>
<rect x="320.8" y="558.1" width="12.2" height="12.2" fill="#00ffff" rx="0.8"/>
<rect x="298.2" y="592.0" width="12.2" height="12.2" fill="#00ffff" rx="0.8"/>
<rect x="284.8" y="607.4" width="12.2" height="12.2" fill="#00ffff" rx="0.8"/>
<rect x="292.0" y="615.6" width="12.2" height="12.2" fill="#00ffff" rx="0.8"/>
<rect x="300.2" y="615.6" width="12.2" height="12.2" fill="#00ffff" rx="0.8"/>
<rect x="292.0" y="625.9" width="12.2" height="12.2" fill="#00ffff" rx="0.8"/>
<rect x="273.5" y="623.8" width="12.2" height="12.2" fill="#00ffff" rx="0.8"/>
<rect x="242.7" y="630.0" width="12.2" height="12.2" fill="#00ffff" rx="0.8"/>
<rect x="257.1" y="644.3" width="12.2" height="12.2" fill="#00ffff" rx="0.8"/>
<rect x="254.0" y="654.6" width="12.2" height="12.2" fill="#00ffff" rx="0.8"/>
<rect x="283.8" y="666.9" width="12.2" height="12.2" fill="#00ffff" rx="0.8"/>
<rect x="327.9" y="644.3" width="12.2" height="12.2" fill="#00ffff" rx="0.8"/>
<rect x="325.9" y="584.8" width="12.2" height="12.2" fill="#00ffff" rx="0.8"/>
<rect x="171.6" y="710.4" width="12.2" height="12.2" fill="#00ffff" rx="0.8"/>
<rect x="255.8" y="642.6" width="12.2" height="12.2" fill="#00ffff" rx="0.8"/>
<rect x="328.7" y="646.8" width="12.2" height="12.2" fill="#00ffff" rx="0.8"/>
<rect x="291.7" y="622.1" width="12.2" height="12.2" fill="#00ffff" rx="0.8"/>
<rect x="336.9" y="622.1" width="12.2" height="12.2" fill="#00ffff" rx="0.8"/>
<rect x="374.4" y="494.8" width="12.2" height="12.2" fill="#00ffff" rx="0.8"/>
<rect x="405.8" y="494.2" width="12.2" height="12.2" fill="#00ffff" rx="0.8"/>
<rect x="358.4" y="519.5" width="12.2" height="12.2" fill="#00ffff" rx="0.8"/>
<rect x="346.1" y="538.0" width="12.2" height="12.2" fill="#00ffff" rx="0.8"/>
<rect x="355.9" y="533.0" width="12.2" height="12.2" fill="#00ffff" rx="0.8"/>
<rect x="400.3" y="525.6" width="12.2" height="12.2" fill="#00ffff" rx="0.8"/>
<rect x="428.6" y="525.6" width="12.2" height="12.2" fill="#00ffff" rx="0.8"/>
<rect x="405.2" y="539.2" width="12.2" height="12.2" fill="#00ffff" rx="0.8"/>
<rect x="429.8" y="542.9" width="12.2" height="12.2" fill="#00ffff" rx="0.8"/>
<rect x="408.9" y="558.9" width="12.2" height="12.2" fill="#00ffff" rx="0.8"/>
<rect x="359.6" y="581.1" width="12.2" height="12.2" fill="#00ffff" rx="0.8"/>
<rect x="335.0" y="562.6" width="12.2" height="12.2" fill="#00ffff" rx="0.8"/>
<rect x="328.8" y="581.1" width="12.2" height="12.2" fill="#00ffff" rx="0.8"/>
<rect x="424.9" y="501.0" width="12.2" height="12.2" fill="#00ffff" rx="0.8"/>
<rect x="410.1" y="570.0" width="12.2" height="12.2" fill="#00ffff" rx="0.8"/>
<rect x="434.8" y="568.8" width="12.2" height="12.2" fill="#00ffff" rx="0.8"/>
<rect x="348.5" y="550.3" width="12.2" height="12.2" fill="#00ffff" rx="0.8"/>
<rect x="489.3" y="441.3" width="12.2" height="12.2" fill="#00ffff" rx="0.8"/>
<rect x="480.7" y="475.8" width="12.2" height="12.2" fill="#00ffff" rx="0.8"/>
<rect x="451.1" y="495.5" width="12.2" height="12.2" fill="#00ffff" rx="0.8"/>
<rect x="461.0" y="500.4" width="12.2" height="12.2" fill="#00ffff" rx="0.8"/>
<rect x="517.7" y="490.6" width="12.2" height="12.2" fill="#00ffff" rx="0.8"/>
<rect x="549.7" y="437.6" width="12.2" height="12.2" fill="#00ffff" rx="0.8"/>
<rect x="436.4" y="527.5" width="12.2" height="12.2" fill="#00ffff" rx="0.8"/>
<rect x="502.9" y="527.5" width="12.2" height="12.2" fill="#00ffff" rx="0.8"/>
<rect x="470.9" y="539.8" width="12.2" height="12.2" fill="#00ffff" rx="0.8"/>
<rect x="532.5" y="544.8" width="12.2" height="12.2" fill="#00ffff" rx="0.8"/>
<rect x="477.6" y="540.1" width="12.2" height="12.2" fill="#00ffff" rx="0.8"/>
<rect x="487.8" y="552.4" width="12.2" height="12.2" fill="#00ffff" rx="0.8"/>
<rect x="439.6" y="570.9" width="12.2" height="12.2" fill="#00ffff" rx="0.8"/>
<rect x="471.4" y="584.2" width="12.2" height="12.2" fill="#00ffff" rx="0.8"/>
<rect x="373.2" y="635.5" width="12.2" height="12.2" fill="#00ffff" rx="0.8"/>
<rect x="410.1" y="590.3" width="12.2" height="12.2" fill="#00ffff" rx="0.8"/>
<rect x="447.1" y="689.9" width="12.2" height="12.2" fill="#00ffff" rx="0.8"/>
<rect x="532.7" y="420.6" width="12.2" height="12.2" fill="#00ffff" rx="0.8"/>
<rect x="467.0" y="447.3" width="12.2" height="12.2" fill="#00ffff" rx="0.8"/>
<rect x="509.1" y="471.9" width="12.2" height="12.2" fill="#00ffff" rx="0.8"/>
<rect x="733.9" y="287.5" width="12.2" height="12.2" fill="#00ffff" rx="0.8"/>
<rect x="499.5" y="426.9" width="12.2" height="12.2" fill="#00ffff" rx="0.8"/>
<rect x="486.3" y="442.5" width="12.2" height="12.2" fill="#00ffff" rx="0.8"/>
<rect x="462.5" y="466.3" width="12.2" height="12.2" fill="#00ffff" rx="0.8"/>
<rect x="484.7" y="480.3" width="12.2" height="12.2" fill="#00ffff" rx="0.8"/>
<rect x="376.1" y="496.9" width="12.2" height="12.2" fill="#00ffff" rx="0.8"/>
<rect x="358.8" y="536.3" width="12.2" height="12.2" fill="#00ffff" rx="0.8"/>
<rect x="402.4" y="528.1" width="12.2" height="12.2" fill="#00ffff" rx="0.8"/>
<rect x="402.4" y="536.3" width="12.2" height="12.2" fill="#00ffff" rx="0.8"/>
<rect x="423.7" y="508.4" width="12.2" height="12.2" fill="#00ffff" rx="0.8"/>
<rect x="357.2" y="547.0" width="12.2" height="12.2" fill="#00ffff" rx="0.8"/>
<rect x="425.4" y="527.3" width="12.2" height="12.2" fill="#00ffff" rx="0.8"/>
<polygon points="520.0,490.3 506.2,493.4 493.9,496.5 480.6,494.4 473.4,486.2 465.3,480.0 464.4,477.6 460.2,469.2 456.0,458.0 442.0,449.6 418.2,435.6 400.0,428.6 393.4,423.7 379.0,419.6 358.5,413.5 346.0,401.0 339.5,391.0 335.4,357.5 340.0,345.7 351.3,323.1 360.5,312.9 374.9,289.2 383.1,280.0 392.4,269.3 401.6,256.5 405.7,251.9 417.0,239.5 426.2,230.3 434.5,219.5 440.0,214.9 455.0,198.1 471.4,181.7 473.9,180.0 494.4,160.1 508.8,150.8 529.3,131.8 540.0,127.2 565.7,115.9 598.0,101.6 633.4,101.6 640.0,105.7 659.5,116.5 673.9,135.0 681.1,146.2 689.3,162.7 695.4,179.1 697.5,187.3 699.5,216.1 697.5,238.6 694.4,260.0 692.8,265.0 690.9,280.0 687.8,292.3 679.6,304.6 671.4,319.0 661.1,335.4 651.9,347.8 644.7,358.0 630.3,376.5 620.1,388.8 607.8,405.3 597.5,419.6 581.1,442.2 566.7,458.6 552.3,471.0 540.0,480.5" fill="none" stroke="#ff0000" stroke-width="4.2" stroke-linejoin="round" stroke-linecap="round"/>
<polygon points="404.7,321.1 407.8,312.9 419.1,288.2 425.2,280.0 432.4,265.2 440.0,251.9 458.5,233.4 462.6,228.3 469.8,220.0 504.7,187.7 509.8,180.0 525.2,166.2 532.4,160.1 540.0,159.1 554.4,151.9 564.1,144.7 597.5,140.6 618.0,150.3 621.1,153.9 627.6,164.7 631.4,180.1 632.6,193.3 630.3,205.8 628.0,214.0 622.0,230.0 616.0,241.6 605.7,253.9 593.4,272.4 588.3,280.0 564.6,308.7 540.0,323.1 528.9,329.3 496.1,345.7 471.4,348.8 426.2,356.0 409.8,330.3" fill="none" stroke="#ff0000" stroke-width="4.2" stroke-linejoin="round" stroke-linecap="round"/>
<polygon points="485.2,252.9 494.4,240.6 506.7,227.2 530.0,201.1 564.2,198.3 567.0,205.7 569.7,213.1 561.0,229.0 552.0,245.0 544.1,262.0 517.1,273.0 496.6,281.2 489.3,266.2" fill="none" stroke="#ff0000" stroke-width="4.2" stroke-linejoin="round" stroke-linecap="round"/>
<polyline points="568.7,214.0 557.5,228.3 548.2,243.7 540.0,256.0" fill="none" stroke="#ff0000" stroke-width="4.2" stroke-linejoin="round" stroke-linecap="round"/>
<polygon points="322.1,599.0 332.3,585.2 348.7,561.6 371.3,540.0 394.4,526.2 403.7,523.1 427.3,522.6 432.4,528.3 420.0,546.2 412.4,560.5 391.9,580.0 364.1,594.4 347.7,598.5" fill="none" stroke="#ff0000" stroke-width="4.2" stroke-linejoin="round" stroke-linecap="round"/>
<polygon points="493.0,356.0 480.0,387.4 475.8,392.3 461.0,403.4 449.9,413.3 438.8,424.4 424.1,435.4 397.0,458.8 376.0,477.3 360.0,490.9 343.1,508.2 319.7,530.0 294.0,553.9 248.8,598.1 231.3,620.0 221.5,632.3 205.5,665.6 207.9,700.1 219.0,711.8 238.0,717.3 254.7,720.6 289.6,712.4 318.4,698.0 330.0,691.9 367.0,666.2 401.9,643.7 438.8,617.0 461.1,597.5 492.2,580.0 520.0,556.4 540.0,542.1 587.2,501.1 607.8,480.0 646.8,444.3 689.9,411.4 740.0,366.2 760.5,342.7 781.1,322.1 803.7,289.3 809.8,277.0 821.1,254.4 821.5,240.0 820.7,218.1 806.3,191.4 800.2,185.3 769.4,172.9 734.5,174.0 699.5,183.2 672.9,187.3 640.0,187.7 630.3,188.7 611.9,194.4 597.5,198.5 581.1,208.7 576.2,211.3 565.1,219.6 557.7,225.1 545.7,236.2 540.0,240.0 530.3,247.8 524.2,255.0 517.0,267.3 509.8,278.6 500.2,290.3 484.8,322.1 487.8,333.4" fill="none" stroke="#008000" stroke-width="4.2" stroke-linejoin="round" stroke-linecap="round"/>
<polygon points="291.6,665.5 310.0,660.3 324.5,660.0 330.0,656.0 356.7,640.6 391.6,617.0 420.0,594.4 438.8,580.0 450.8,570.8 491.9,540.0 540.0,499.0 560.5,480.0 589.3,458.6 618.0,436.1 671.4,382.7 722.7,335.4 740.0,311.0 759.5,288.3 765.7,254.4 744.1,240.0 734.5,232.5 701.6,233.5 670.8,244.8 650.8,255.2 632.6,269.2 623.2,280.0 597.5,317.0 570.8,349.8 540.0,388.0 523.4,402.1 477.5,440.0 456.0,457.0 440.0,469.5 425.2,480.0 409.3,490.9 376.4,520.0 353.0,540.0 331.3,559.8 310.0,582.3 292.6,597.7 273.1,631.6 278.3,648.0 284.4,662.4" fill="none" stroke="#008000" stroke-width="4.2" stroke-linejoin="round" stroke-linecap="round"/>
<polygon points="415.0,528.0 420.0,524.0 470.0,480.0 512.4,440.0 526.5,426.7 559.3,400.0 630.3,331.3 667.3,300.5 698.1,323.1 663.2,366.2 632.4,395.0 591.3,432.0 570.0,443.1 531.6,471.9 495.7,500.0 461.8,530.4 426.0,547.0" fill="none" stroke="#008000" stroke-width="4.2" stroke-linejoin="round" stroke-linecap="round"/>
<polygon points="378.5,562.1 392.9,551.3 412.4,562.6 391.9,574.9" fill="none" stroke="#008000" stroke-width="4.2" stroke-linejoin="round" stroke-linecap="round"/>
<polygon points="350.8,593.4 358.0,589.3 365.2,597.5 358.0,601.6" fill="none" stroke="#008000" stroke-width="4.2" stroke-linejoin="round" stroke-linecap="round"/>
<polygon points="834.5,288.3 811.9,268.7 795.4,254.4 794.0,253.0 783.7,230.4 777.6,220.2 769.4,214.0 734.5,214.0 701.6,223.2 666.7,222.2 640.0,229.0 627.3,233.4 613.9,242.6 594.4,258.0 591.3,267.3 589.3,280.0 580.0,310.8 575.9,318.0 540.0,351.9 534.4,360.0 498.0,379.6 484.0,389.5 461.0,402.0 438.8,422.5 424.1,433.5 400.0,452.8 376.0,474.5 360.0,487.9 346.8,499.0 330.8,513.1 308.0,530.0 263.2,564.2 228.3,597.0 206.7,620.0 193.2,632.3 173.4,665.6 182.1,700.1 187.0,703.2 206.7,705.0 220.3,707.5 240.3,705.2 289.6,699.1 328.6,686.7 350.0,678.5 371.1,666.2 422.4,635.4 459.4,617.0 491.9,593.4 508.6,580.0 520.0,570.8 540.0,552.4 564.6,529.8 611.9,494.9 634.5,482.6 671.4,460.0 675.5,456.6 702.2,438.1 740.0,408.0 760.5,392.0 795.4,357.0 807.8,340.6 824.2,322.1" fill="none" stroke="#0000ff" stroke-width="4.2" stroke-linejoin="round" stroke-linecap="round"/>
<polygon points="726.9,357.0 710.4,327.2 700.2,318.0 667.3,323.1 630.3,341.6 601.6,358.0 540.0,391.5 495.2,414.6 470.0,431.4 442.0,451.0 414.0,470.6 386.2,496.4 360.0,516.8 349.3,526.0 337.5,540.3 313.9,561.9 301.9,576.2 291.6,590.5 274.1,600.8 260.8,616.2 251.6,629.5 254.6,637.8 273.1,648.0 289.5,658.3 310.0,655.2 330.0,653.9 356.7,647.8 375.4,640.0 408.0,621.1 445.7,591.3 461.4,580.0 481.6,563.6 508.3,540.0 540.0,507.2 566.7,482.6 597.5,452.5 613.9,444.3 652.9,423.7 700.2,397.0" fill="none" stroke="#0000ff" stroke-width="4.2" stroke-linejoin="round" stroke-linecap="round"/>
<polygon points="376.0,540.0 386.2,524.7 420.0,497.6 446.2,480.0 456.0,472.0 474.2,460.8 495.2,446.8 514.8,439.8 530.2,437.7 537.3,459.7 526.2,472.0 516.4,480.7 496.7,505.3 461.1,540.0 440.5,562.6 420.0,577.0 408.3,589.3 391.9,599.5 358.0,607.8 335.4,597.5 353.9,564.6" fill="none" stroke="#0000ff" stroke-width="4.2" stroke-linejoin="round" stroke-linecap="round"/>
<polygon points="821.1,322.1 811.9,289.3 805.7,277.0 785.2,254.4 770.8,243.1 756.4,240.0 736.5,232.5 701.6,236.6 667.6,253.8 658.5,260.0 634.0,274.8 620.0,287.4 591.3,310.8 566.7,327.2 540.0,345.7 520.4,360.0 498.0,376.8 478.0,390.0 461.0,401.0 438.8,421.5 424.1,432.5 400.0,451.5 376.0,470.5 360.0,482.3 345.6,494.6 323.4,510.0 300.0,527.3 263.2,560.1 230.3,591.9 217.8,620.0 209.2,631.1 201.8,657.0 199.3,666.8 200.3,671.3 221.5,698.8 238.0,705.0 254.7,709.3 289.6,703.2 330.0,684.7 401.9,651.9 430.3,640.0 453.2,629.3 466.2,624.2 494.3,610.8 520.0,589.3 540.0,577.0 556.4,562.7 601.6,529.8 632.4,511.3 667.3,484.6 698.1,460.0 740.0,424.0 783.1,392.0 812.9,357.0" fill="none" stroke="#00ffff" stroke-width="4.2" stroke-linejoin="round" stroke-linecap="round"/>
<polygon points="710.4,356.0 702.2,347.8 669.4,360.1 630.3,378.6 601.6,388.8 540.0,404.0 523.2,411.8 470.0,438.4 440.0,460.5 425.2,470.6 416.8,480.0 384.6,502.0 360.0,516.0 337.0,537.0 310.8,561.9 287.2,590.0 275.2,603.9 263.9,625.4 261.8,633.7 273.1,643.9 287.5,658.3 300.0,661.5 314.3,661.1 340.0,652.0 367.0,635.4 412.1,612.9 420.0,609.8 473.7,580.0 520.0,548.2 540.0,533.9 588.2,503.9 610.8,487.5 643.7,460.8 660.1,444.4 670.3,436.2 683.7,419.6 702.2,386.8" fill="none" stroke="#00ffff" stroke-width="4.2" stroke-linejoin="round" stroke-linecap="round"/>
<polygon points="339.5,595.4 358.0,603.7 381.6,595.4 410.3,587.2 420.0,583.1 445.7,565.7 485.7,540.0 499.1,523.8 526.2,500.4 531.2,494.2 528.7,488.0 513.9,479.4 495.4,469.6 477.0,475.7 450.0,490.0 420.0,506.7 392.4,526.2 375.4,540.0 350.8,563.6 342.6,581.1" fill="none" stroke="#00ffff" stroke-width="4.2" stroke-linejoin="round" stroke-linecap="round"/>
<polyline points="493.0,356.0 480.0,387.4 475.8,392.3 461.0,403.4 449.9,413.3 438.8,424.4 424.1,435.4 397.0,458.8 376.0,477.3 360.0,490.9 343.1,508.2 319.7,530.0" fill="none" stroke="#008000" stroke-width="4.2" stroke-linejoin="round" stroke-linecap="round"/>
<polyline points="97.8,425.8 392.5,425.8 667.2,185.5 667.2,-6.1" fill="none" stroke="#000" stroke-width="11.2" stroke-linejoin="miter" stroke-miterlimit="10"/>
</g>
<path d="M152.14,872.00V866.00M152.14,13.90V19.90M117.80,837.68H123.80M976.20,837.68H970.20M186.47,872.00V866.00M186.47,13.90V19.90M117.80,803.35H123.80M976.20,803.35H970.20M220.81,872.00V866.00M220.81,13.90V19.90M117.80,769.03H123.80M976.20,769.03H970.20M255.14,872.00V866.00M255.14,13.90V19.90M117.80,734.70H123.80M976.20,734.70H970.20M289.48,872.00V861.20M289.48,13.90V24.70M117.80,700.38H128.60M976.20,700.38H965.40M323.82,872.00V866.00M323.82,13.90V19.90M117.80,666.06H123.80M976.20,666.06H970.20M358.15,872.00V866.00M358.15,13.90V19.90M117.80,631.73H123.80M976.20,631.73H970.20M392.49,872.00V866.00M392.49,13.90V19.90M117.80,597.41H123.80M976.20,597.41H970.20M426.82,872.00V866.00M426.82,13.90V19.90M117.80,563.08H123.80M976.20,563.08H970.20M461.16,872.00V861.20M461.16,13.90V24.70M117.80,528.76H128.60M976.20,528.76H965.40M495.50,872.00V866.00M495.50,13.90V19.90M117.80,494.44H123.80M976.20,494.44H970.20M529.83,872.00V866.00M529.83,13.90V19.90M117.80,460.11H123.80M976.20,460.11H970.20M564.17,872.00V866.00M564.17,13.90V19.90M117.80,425.79H123.80M976.20,425.79H970.20M598.50,872.00V866.00M598.50,13.90V19.90M117.80,391.46H123.80M976.20,391.46H970.20M632.84,872.00V861.20M632.84,13.90V24.70M117.80,357.14H128.60M976.20,357.14H965.40M667.18,872.00V866.00M667.18,13.90V19.90M117.80,322.82H123.80M976.20,322.82H970.20M701.51,872.00V866.00M701.51,13.90V19.90M117.80,288.49H123.80M976.20,288.49H970.20M735.85,872.00V866.00M735.85,13.90V19.90M117.80,254.17H123.80M976.20,254.17H970.20M770.18,872.00V866.00M770.18,13.90V19.90M117.80,219.84H123.80M976.20,219.84H970.20M804.52,872.00V861.20M804.52,13.90V24.70M117.80,185.52H128.60M976.20,185.52H965.40M838.86,872.00V866.00M838.86,13.90V19.90M117.80,151.20H123.80M976.20,151.20H970.20M873.19,872.00V866.00M873.19,13.90V19.90M117.80,116.87H123.80M976.20,116.87H970.20M907.53,872.00V866.00M907.53,13.90V19.90M117.80,82.55H123.80M976.20,82.55H970.20M941.86,872.00V866.00M941.86,13.90V19.90M117.80,48.22H123.80M976.20,48.22H970.20" stroke="#000" stroke-width="2.1" fill="none"/>
<rect x="117.8" y="13.9" width="858.4" height="858.1" fill="none" stroke="#000" stroke-width="2.3" stroke-linejoin="miter"/>
<text x="117.8" y="912.5" font-size="43.50" text-anchor="middle">0.0</text>
<text x="107.3" y="887.2" font-size="43.50" text-anchor="end">0.0</text>
<text x="289.5" y="912.5" font-size="43.50" text-anchor="middle">0.5</text>
<text x="107.3" y="715.6" font-size="43.50" text-anchor="end">0.5</text>
<text x="461.2" y="912.5" font-size="43.50" text-anchor="middle">1.0</text>
<text x="107.3" y="544.0" font-size="43.50" text-anchor="end">1.0</text>
<text x="632.8" y="912.5" font-size="43.50" text-anchor="middle">1.5</text>
<text x="107.3" y="372.3" font-size="43.50" text-anchor="end">1.5</text>
<text x="804.5" y="912.5" font-size="43.50" text-anchor="middle">2.0</text>
<text x="107.3" y="200.7" font-size="43.50" text-anchor="end">2.0</text>
<text x="976.2" y="912.5" font-size="43.50" text-anchor="middle">2.5</text>
<text x="107.3" y="29.1" font-size="43.50" text-anchor="end">2.5</text>
<text x="466.9" y="962" font-size="43.5">(V<tspan dx="3.4">−</tspan><tspan dx="7.4">J)</tspan><tspan font-size="30.6" dx="-1.1" dy="12">rest</tspan></text>
<text transform="translate(29.8,529.5) rotate(-90)" font-size="43.5">(U<tspan dx="3.4">−</tspan><tspan dx="7.4">V)</tspan><tspan font-size="30.6" dx="-1.1" dy="12">rest</tspan></text>
<line x1="630.8" y1="597.50" x2="703.8" y2="597.50" stroke="#ff0000" stroke-width="4.2"/>
<text x="735.2" y="608.90" font-size="43.50" fill="#ff0000" textLength="159.0" lengthAdjust="spacingAndGlyphs">SPH [83]</text>
<line x1="630.8" y1="666.17" x2="703.8" y2="666.17" stroke="#008000" stroke-width="4.2"/>
<text x="736.2" y="677.57" font-size="43.50" fill="#008000" textLength="162.2" lengthAdjust="spacingAndGlyphs">ETD [17]</text>
<line x1="630.8" y1="734.84" x2="703.8" y2="734.84" stroke="#0000ff" stroke-width="4.2"/>
<text x="735.8" y="746.24" font-size="43.50" fill="#0000ff" textLength="162.7" lengthAdjust="spacingAndGlyphs">LTD [78]</text>
<line x1="630.8" y1="803.51" x2="703.8" y2="803.51" stroke="#00ffff" stroke-width="4.2"/>
<text x="736.2" y="814.91" font-size="43.50" fill="#00ffff" textLength="150.9" lengthAdjust="spacingAndGlyphs">IRR [36]</text>
</svg></body></html>
